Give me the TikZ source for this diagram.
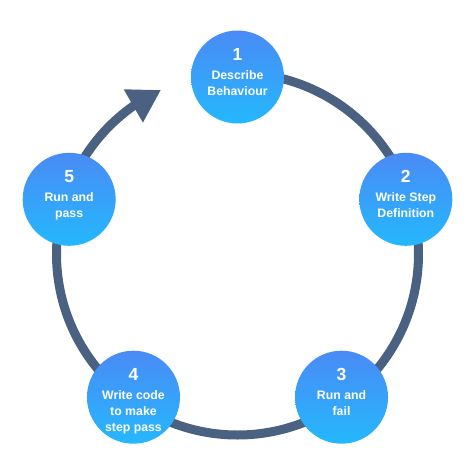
\documentclass[tikz,border=0pt]{standalone}
\usepackage{fontspec}
\setmainfont{Liberation Sans}
\usetikzlibrary{arrows.meta,bending}
\definecolor{ringcol}{RGB}{75,97,130}
\definecolor{btop}{RGB}{74,139,246}
\definecolor{bbot}{RGB}{36,184,253}
\begin{document}
\begin{tikzpicture}[x=1pt,y=1pt,
  stepcircle/.style={circle, minimum size=93pt, inner sep=0pt, top color=btop, bottom color=bbot},
  numtext/.style={anchor=base, text=white, font=\bfseries\fontsize{17.5}{20}\selectfont, inner sep=0pt},
  labtext/.style={anchor=base, text=white, align=center, font=\bfseries\fontsize{12.3}{16}\selectfont, inner sep=0pt},
  ringline/.style={draw=ringcol, line width=9pt}]
\useasboundingbox (0,0) rectangle (474,-475);
\coordinate (O) at (237.5,-254);
\draw[ringline, -{Triangle[length=32pt,width=36pt]}] ([shift={(90:181)}]O) arc[start angle=90, end angle=-245, radius=181];
\node[stepcircle] (s1) at ([shift={(90:177)}]O) {};
\node[stepcircle] (s2) at ([shift={(18:177)}]O) {};
\node[stepcircle] (s3) at ([shift={(-54:177)}]O) {};
\node[stepcircle] (s4) at ([shift={(-126:177)}]O) {};
\node[stepcircle] (s5) at ([shift={(162:177)}]O) {};
\node[numtext] (n1) at ([yshift=17pt]s1.center) {1};
\node[labtext] (l1) at ([yshift=-18pt]s1.center) {Describe\\Behaviour};
\node[numtext] (n2) at ([yshift=17pt]s2.center) {2};
\node[labtext] (l2) at ([yshift=-18pt]s2.center) {Write Step\\Definition};
\node[numtext] (n3) at ([yshift=17pt]s3.center) {3};
\node[labtext] (l3) at ([yshift=-18pt]s3.center) {Run and\\fail};
\node[numtext] (n4) at ([yshift=17pt]s4.center) {4};
\node[labtext] (l4) at ([yshift=-34pt]s4.center) {Write code\\to make\\step pass};
\node[numtext] (n5) at ([yshift=17pt]s5.center) {5};
\node[labtext] (l5) at ([yshift=-18pt]s5.center) {Run and\\pass};
\end{tikzpicture}
\end{document}
